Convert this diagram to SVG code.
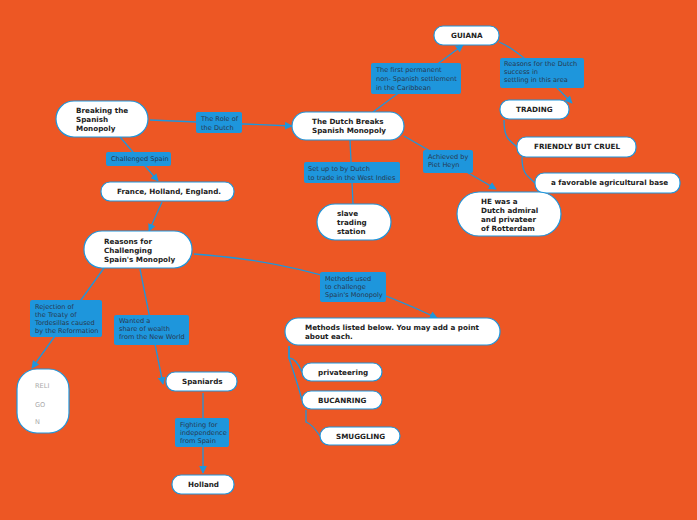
<svg xmlns="http://www.w3.org/2000/svg" width="697" height="520" viewBox="0 0 697 520">
<defs>
<marker id="a" viewBox="0 0 10 10" refX="9" refY="5" markerWidth="6" markerHeight="6" orient="auto"><path d="M0,0L10,5L0,10z" fill="#1e96dc"/></marker>
<style>
.n{fill:#fff;stroke:#1e96dc;stroke-width:1.2}
.l{fill:#1e96dc}
.c{fill:none;stroke:#1e96dc;stroke-width:1.3}
.t{font-family:"DejaVu Sans",sans-serif;font-size:7.2px;font-weight:bold;fill:#222}
.s{font-family:"DejaVu Sans",sans-serif;font-size:6.6px;fill:#27384f}
</style>
</defs>
<rect width="697" height="520" fill="#ed5724"/>
<g id="connectors">
<path class="c" d="M150,120L292,126" marker-end="url(#a)"/>
<path class="c" d="M120,137L158,181" marker-end="url(#a)"/>
<path class="c" d="M162,202L149,231" marker-end="url(#a)"/>
<path class="c" d="M373,112L463,45" marker-end="url(#a)"/>
<path class="c" d="M499,42Q520,50 572,103" marker-end="url(#a)"/>
<path class="c" d="M504,120C504,140 510,140 517,147"/>
<path class="c" d="M522,157C522,175 528,176 535,183"/>
<path class="c" d="M350,140L353,204"/>
<path class="c" d="M404,136L496,189" marker-end="url(#a)"/>
<path class="c" d="M194,254Q320,262 437,318" marker-end="url(#a)"/>
<path class="c" d="M289,346L289,358Q296,358 302,372"/>
<path class="c" d="M289,346L289,358Q298,385 302,400"/>
<path class="c" d="M306,410L306,422Q312,424 320,436"/>
<path class="c" d="M104,268L32,368" marker-end="url(#a)"/>
<path class="c" d="M140,269L163,384" marker-end="url(#a)"/>
<path class="c" d="M203,393L203,473" marker-end="url(#a)"/>
</g>
<g id="lbl-role"><rect class="l" x="196" y="112" width="46" height="21" rx="2"/><text class="s" x="201" y="121">The Role of</text><text class="s" x="201" y="130">the Dutch</text></g>
<g id="lbl-challenged"><rect class="l" x="106" y="152" width="65" height="14" rx="2"/><text class="s" x="111" y="161">Challenged Spain</text></g>
<g id="lbl-first"><rect class="l" x="371" y="63" width="90" height="31" rx="2"/><text class="s" x="376" y="72">The first permanent</text><text class="s" x="376" y="81">non- Spanish settlement</text><text class="s" x="376" y="90">in the Caribbean</text></g>
<g id="lbl-reasonsdutch"><rect class="l" x="500" y="58" width="84" height="30" rx="2"/><text class="s" x="504" y="66">Reasons for the Dutch</text><text class="s" x="504" y="74">success in</text><text class="s" x="504" y="82">settling in this area</text></g>
<g id="lbl-setup"><rect class="l" x="304" y="162" width="96" height="21" rx="2"/><text class="s" x="308" y="171">Set up to by Dutch</text><text class="s" x="308" y="180">to trade in the West Indies</text></g>
<g id="lbl-achieved"><rect class="l" x="423" y="150" width="50" height="23" rx="2"/><text class="s" x="428" y="159">Achieved by</text><text class="s" x="428" y="167">Piet Heyn</text></g>
<g id="lbl-methods"><rect class="l" x="320" y="272" width="66" height="30" rx="2"/><text class="s" x="325" y="281">Methods used</text><text class="s" x="325" y="289">to challenge</text><text class="s" x="325" y="297">Spain's Monopoly</text></g>
<g id="lbl-rejection"><rect class="l" x="30" y="300" width="72" height="37" rx="2"/><text class="s" x="35" y="309">Rejection of</text><text class="s" x="35" y="317">the Treaty of</text><text class="s" x="35" y="325">Tordesillas caused</text><text class="s" x="35" y="333">by the Reformation</text></g>
<g id="lbl-wanted"><rect class="l" x="114" y="315" width="75" height="30" rx="2"/><text class="s" x="119" y="323">Wanted a</text><text class="s" x="119" y="331">share of wealth</text><text class="s" x="119" y="339">from the New World</text></g>
<g id="lbl-fighting"><rect class="l" x="175" y="418" width="54" height="29" rx="2"/><text class="s" x="180" y="427">Fighting for</text><text class="s" x="180" y="435">independence</text><text class="s" x="180" y="443">from Spain</text></g>
<g id="breaking"><rect class="n" x="56" y="101" width="92" height="36" rx="18"/><text class="t" x="76" y="113">Breaking the</text><text class="t" x="76" y="122">Spanish</text><text class="t" x="76" y="131"> Monopoly</text></g>
<g id="dutch"><rect class="n" x="292" y="112" width="112" height="28" rx="14"/><text class="t" x="312" y="124">The Dutch Breaks</text><text class="t" x="312" y="133">Spanish Monopoly</text></g>
<g id="france"><rect class="n" x="101" y="182" width="133" height="19" rx="9"/><text class="t" x="117" y="194">France, Holland, England.</text></g>
<g id="reasons"><rect class="n" x="84" y="231" width="108" height="37" rx="18"/><text class="t" x="104" y="244">Reasons for</text><text class="t" x="104" y="253">Challenging</text><text class="t" x="104" y="262">Spain's Monopoly</text></g>
<g id="guiana"><rect class="n" x="434" y="26" width="65" height="19" rx="9"/><text class="t" x="451" y="38">GUIANA</text></g>
<g id="trading"><rect class="n" x="500" y="100" width="69" height="19" rx="9"/><text class="t" x="516" y="112">TRADING</text></g>
<g id="friendly"><rect class="n" x="517" y="137" width="119" height="20" rx="9"/><text class="t" x="534" y="149">FRIENDLY BUT CRUEL</text></g>
<g id="favorable"><rect class="n" x="535" y="173" width="145" height="20" rx="9"/><text class="t" x="551" y="185">a favorable agricultural base</text></g>
<g id="slave"><rect class="n" x="317" y="204" width="74" height="36" rx="18"/><text class="t" x="337" y="216">slave</text><text class="t" x="337" y="225">trading</text><text class="t" x="337" y="234">station</text></g>
<g id="he"><rect class="n" x="457" y="192" width="104" height="44" rx="22"/><text class="t" x="481" y="204">HE was a</text><text class="t" x="481" y="213">Dutch admiral</text><text class="t" x="481" y="222">and privateer</text><text class="t" x="481" y="231">of Rotterdam</text></g>
<g id="methods"><rect class="n" x="285" y="318" width="215" height="27" rx="13"/><text class="t" x="305" y="330">Methods listed below. You may add a point</text><text class="t" x="305" y="339">about each.</text></g>
<g id="privateering"><rect class="n" x="302" y="363" width="80" height="18" rx="9"/><text class="t" x="318" y="375">privateering</text></g>
<g id="bucanring"><rect class="n" x="302" y="391" width="80" height="18" rx="9"/><text class="t" x="318" y="403">BUCANRING</text></g>
<g id="smuggling"><rect class="n" x="320" y="427" width="80" height="18" rx="9"/><text class="t" x="336" y="439">SMUGGLING</text></g>
<g id="religon"><rect class="n" x="17" y="369" width="52" height="64" rx="20"/><text class="s" x="35" y="388" fill="#aaa" style="fill:#aaa">RELI</text><text class="s" x="35" y="407" style="fill:#aaa">GO</text><text class="s" x="35" y="424" style="fill:#aaa">N</text></g>
<g id="spaniards"><rect class="n" x="166" y="372" width="71" height="19" rx="9"/><text class="t" x="182" y="384">Spaniards</text></g>
<g id="holland"><rect class="n" x="172" y="475" width="62" height="19" rx="9"/><text class="t" x="188" y="487">Holland</text></g>
</svg>
